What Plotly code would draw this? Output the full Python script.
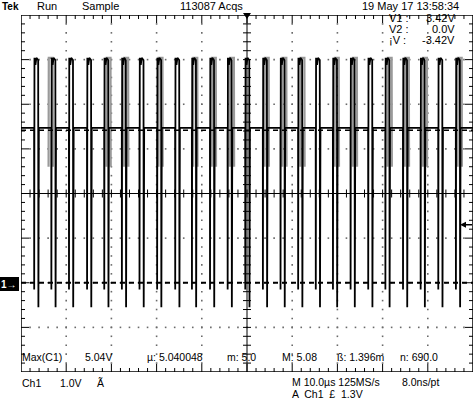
import plotly.graph_objects as go

# ---------------- data read from the screen ----------------
# rising-edge times of the pulses (µs, trigger at 0)
pulse_starts_us = [-47.1, -43.3, -39.4, -35.4, -31.6, -27.7, -23.8, -19.9, -15.9,
                   -12.2, -8.2, -4.3, -0.4, 3.5, 7.4, 11.3, 15.2, 19.0, 22.9,
                   26.8, 30.6, 34.5, 38.4, 42.3, 46.2]
pulse_width_us = 0.9
# persistence (grey) copies: shift of each pulse in µs (0 = none visible)
gray_offsets_us = [0, -0.6, 0, 0, 0.5, 0.5, 0, 0.3, 0, 0.3, 0.4, 0.5, 0,
                   0.4, 0.4, 0.5, 0, 0.4, 0.5, 0, 0.5, 0.4, 0.5, 0, 0.4]
baseline_v = 3.47
high_v = 5.04
ring_v = 4.88
lead_dip_v = -0.15
trail_dip_v = -0.55
gray_low_v = 2.6
cursor_v1 = 3.42
cursor_v2 = 0.0
trigger_level_v = 1.3

x_range = [-50, 50]   # 10 µs/div
y_range = [-2, 6]     # 1.0 V/div, ground 2 div below centre

W, H = 474, 408
L, T, PW, PH = 21, 15, 452, 357
pxu = PW / 100.0      # px per µs
pyv = PH / 8.0        # px per V


def paper(xp, yp):
    return (xp - L) / PW, (T + PH - yp) / PH


def build_black(starts):
    xs, ys = [x_range[0]], [baseline_v]
    w = pulse_width_us
    for t0 in starts:
        xs += [t0, t0 + 0.02, t0 + 0.08, t0 + 0.3, t0 + 0.5, t0 + w,
               t0 + w + 0.05, t0 + w + 0.15]
        ys += [baseline_v, lead_dip_v, high_v, ring_v, high_v, high_v - 0.05,
               trail_dip_v, baseline_v]
    xs.append(x_range[1]); ys.append(baseline_v)
    return xs, ys


def build_gray(starts, shifts):
    xs, ys = [], []
    w = pulse_width_us
    for t0, s in zip(starts, shifts):
        if s == 0:
            continue
        t = t0 + s
        xs += [t, t + 0.05, t + w, t + w + 0.05, None]
        ys += [gray_low_v, high_v, high_v, gray_low_v, None]
    return xs, ys


fig = go.Figure()

# ---- graticule dots ----
dx, dy = [], []
for gx in [-40, -30, -20, -10, 10, 20, 30, 40]:
    for k in range(1, 40):
        dx.append(gx); dy.append(-2 + k * 0.2)
for gy in [-1, 0, 1, 3, 4, 5]:
    for k in range(1, 50):
        dx.append(-50 + k * 2); dy.append(gy)
fig.add_trace(go.Scatter(x=dx, y=dy, mode="markers", hoverinfo="skip",
                         marker=dict(symbol="square", size=1.6, color="#6a6a6a",
                                     line=dict(width=0))))

# ---- ticks on border and centre lines ----
tx, ty = [], []
mn_h, mj_h = 4 / pxu, 8 / pxu       # horizontal tick lengths in µs
mn_v, mj_v = 4 / pyv, 8 / pyv       # vertical tick lengths in V
for k in range(1, 50):
    x = -50 + k * 2
    major = (k % 5 == 0)
    lv = mj_v if major else mn_v
    tx += [x, x, None, x, x, None]
    ty += [6, 6 - lv, None, -2, -2 + lv, None]
    tx += [x, x, None]
    ty += [2 - 4 / pyv, 2 + 4 / pyv, None]
for k in range(1, 40):
    y = -2 + k * 0.2
    major = (k % 5 == 0)
    lh = mj_h if major else mn_h
    tx += [-50, -50 + lh, None, 50, 50 - lh, None]
    ty += [y, y, None, y, y, None]
    tx += [-4 / pxu, 4 / pxu, None]
    ty += [y, y, None]
fig.add_trace(go.Scatter(x=tx, y=ty, mode="lines", hoverinfo="skip",
                         line=dict(color="black", width=1)))

# ---- waveform: grey persistence then black ----
gx_, gy_ = build_gray(pulse_starts_us, gray_offsets_us)
fig.add_trace(go.Scatter(x=gx_, y=gy_, mode="lines", hoverinfo="skip",
                         line=dict(color="#9a9a9a", width=2.2)))
bx, by = build_black(pulse_starts_us)
fig.add_trace(go.Scatter(x=bx, y=by, mode="lines", hoverinfo="skip",
                         line=dict(color="black", width=1.8)))

shapes = [
    dict(type="rect", xref="x", yref="y", x0=-50, x1=50, y0=-2, y1=6,
         line=dict(color="black", width=1.5), layer="above"),
    dict(type="line", xref="x", yref="y", x0=0, x1=0, y0=-2, y1=6,
         line=dict(color="black", width=1)),
    dict(type="line", xref="x", yref="y", x0=-50, x1=50, y0=2, y1=2,
         line=dict(color="black", width=1)),
    dict(type="line", xref="x", yref="y", x0=-50, x1=50, y0=cursor_v1, y1=cursor_v1,
         line=dict(color="black", width=1.5, dash="5px,4px")),
    dict(type="line", xref="x", yref="y", x0=-50, x1=50, y0=cursor_v2, y1=cursor_v2,
         line=dict(color="black", width=1.8, dash="5px,4px")),
]

# ground marker box "1→"
x0p, y0p = paper(0, 277); x1p, y1p = paper(19, 291)
shapes.append(dict(type="rect", xref="paper", yref="paper", x0=x0p, x1=x1p,
                   y0=y1p, y1=y0p, fillcolor="black", line=dict(width=0)))
# trigger position triangle at top
a = paper(243, 13); b = paper(251, 13); c = paper(247, 19)
shapes.append(dict(type="path", xref="paper", yref="paper",
                   path=f"M {a[0]} {a[1]} L {b[0]} {b[1]} L {c[0]} {c[1]} Z",
                   fillcolor="black", line=dict(width=0)))
# trigger level arrow at right
ty_px = T + (y_range[1] - trigger_level_v) * pyv
h1 = paper(460, ty_px); h2 = paper(466, ty_px - 3); h3 = paper(466, ty_px + 3)
shapes.append(dict(type="path", xref="paper", yref="paper",
                   path=f"M {h1[0]} {h1[1]} L {h2[0]} {h2[1]} L {h3[0]} {h3[1]} Z",
                   fillcolor="black", line=dict(width=0)))
e1 = paper(465, ty_px); e2 = paper(472, ty_px)
shapes.append(dict(type="line", xref="paper", yref="paper", x0=e1[0], y0=e1[1],
                   x1=e2[0], y1=e2[1], line=dict(color="black", width=1.5)))

FONT = "Liberation Sans, Arial, sans-serif"
ann = []


def text(xp, yp, s, size=11, anchor="left", bold=False, color="black"):
    px_, py_ = paper(xp, yp)
    ann.append(dict(x=px_, y=py_, xref="paper", yref="paper", text=(f"<b>{s}</b>" if bold else s),
                    showarrow=False, xanchor=anchor, yanchor="middle",
                    font=dict(family=FONT, size=size, color=color), borderpad=0))


# top status line
text(1, 6, "Tek", size=10, bold=True)
text(36, 6, "Run")
text(81, 6, "Sample")
text(179, 6, "113087 Acqs")
text(361, 6, "19 May 17 13:58:34")
# cursor readouts
text(388, 18, "V1 :")
text(388, 29, "V2 :")
text(388, 40, "¡V :")
text(456, 18, "3.42V", anchor="right")
text(456, 29, "0.0V", anchor="right")
text(456, 40, "-3.42V", anchor="right")
# measurement row
text(21, 357, "Max(C1)", size=10.5)
text(84, 357, "5.04V", size=10.5)
text(146, 357, "µ: 5.040048", size=10.5)
text(226, 357, "m: 5.0", size=10.5)
text(281, 357, "M: 5.08", size=10.5)
text(336, 357, "ß: 1.396m", size=10.5)
text(399, 357, "n: 690.0", size=10.5)
# bottom status
text(21, 383, "Ch1", size=10.5)
text(59, 383, "1.0V", size=10.5)
text(96, 383, "Ã", size=10.5)
text(291, 382, "M 10.0µs 125MS/s", size=10.5)
text(401, 382, "8.0ns/pt", size=10.5)
text(291, 394, "A  Ch1  £  1.3V", size=10.5)
# ground marker label
text(9, 284, "1→", size=10, anchor="center", bold=True, color="white")

fig.update_layout(
    width=W, height=H, autosize=False,
    margin=dict(l=L, r=W - L - PW, t=T, b=H - T - PH, pad=0),
    paper_bgcolor="white", plot_bgcolor="white",
    showlegend=False, shapes=shapes, annotations=ann,
    xaxis=dict(range=x_range, visible=False, fixedrange=True),
    yaxis=dict(range=y_range, visible=False, fixedrange=True),
)

fig.write_html("out.html", config={"displayModeBar": False},
               post_script="document.body.style.margin='0';document.body.style.overflow='hidden';")
